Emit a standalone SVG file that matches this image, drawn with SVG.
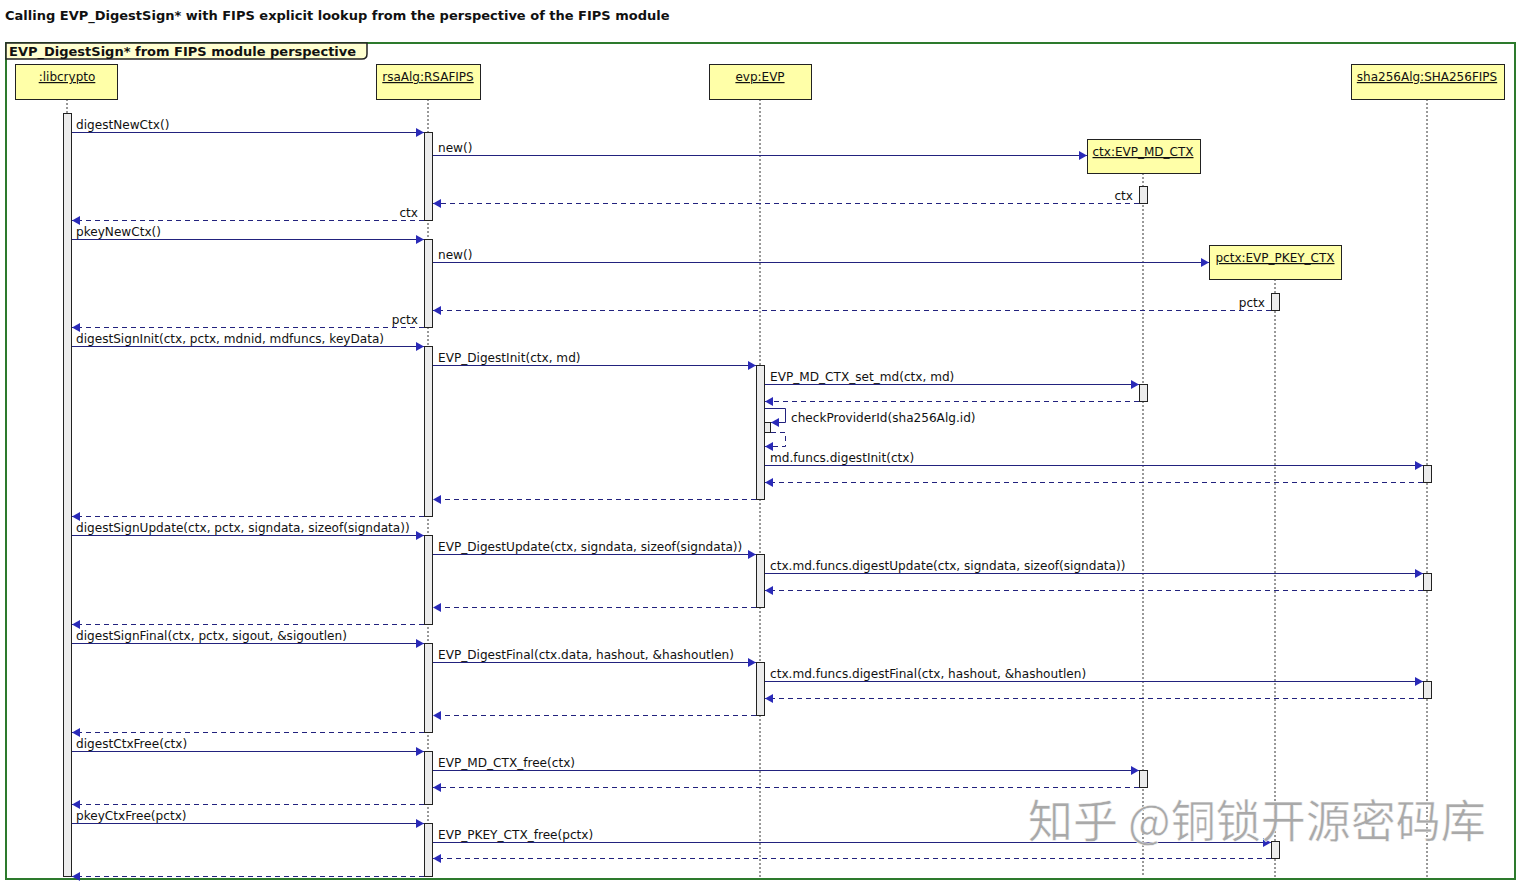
<svg xmlns="http://www.w3.org/2000/svg" width="1526" height="884" viewBox="0 0 1526 884">
<style>
text{font-family:"DejaVu Sans","Liberation Sans",sans-serif;font-size:12.1px;fill:#111}
.title{font-weight:bold;font-size:13px}
.head rect{fill:#ffffa8;stroke:#222;stroke-width:1}
.head text{text-anchor:middle;text-decoration:underline;font-size:12px}
.life{stroke:#333;stroke-width:1;stroke-dasharray:2,2}
.act{fill:#ececec;stroke:#222;stroke-width:1}
.msg{stroke:#22227e;stroke-width:1;fill:none;marker-end:url(#ah)}
.ret{stroke:#22227e;stroke-width:1;fill:none;stroke-dasharray:5,4;marker-end:url(#ah)}
.r{text-anchor:end}
.wm{font-family:"Noto Sans CJK SC",sans-serif;font-size:45px;fill:#a9a9a9;stroke:#ffffff;stroke-width:0.5}
</style>
<defs>
<marker id="ah" markerUnits="userSpaceOnUse" markerWidth="9" markerHeight="9" refX="8" refY="4.5" orient="auto"><path d="M0,0 L8,4.5 L0,9 z" fill="#2a2ab8"/></marker>
</defs>
<rect width="1526" height="884" fill="#fff"/>
<text class="title" x="5" y="20">Calling EVP_DigestSign* with FIPS explicit lookup from the perspective of the FIPS module</text>
<g id="frame">
<rect x="6" y="43" width="1509" height="836" fill="none" stroke="#2d7a2d" stroke-width="2"/>
<path d="M6,43 H367 V54 Q367,59 362,59 H6 Z" fill="#ffffd0" stroke="#222" stroke-width="1.5"/>
<text class="title" x="9" y="56">EVP_DigestSign* from FIPS module perspective</text>
</g>
<g id="lifelines">
<line class="life" x1="67" y1="99" x2="67" y2="877"/>
<line class="life" x1="428" y1="99" x2="428" y2="877"/>
<line class="life" x1="760" y1="99" x2="760" y2="877"/>
<line class="life" x1="1143" y1="173" x2="1143" y2="877"/>
<line class="life" x1="1275" y1="279" x2="1275" y2="877"/>
<line class="life" x1="1427" y1="99" x2="1427" y2="877"/>
</g>
<g id="libcrypto" class="head"><rect x="15.5" y="64.5" width="102" height="35"/><text x="67" y="81">:libcrypto</text></g>
<g id="rsaAlg" class="head"><rect x="376.5" y="64.5" width="104" height="35"/><text x="428" y="81">rsaAlg:RSAFIPS</text></g>
<g id="evp" class="head"><rect x="709.5" y="64.5" width="102" height="35"/><text x="760" y="81">evp:EVP</text></g>
<g id="sha256Alg" class="head"><rect x="1351.5" y="64.5" width="153" height="35"/><text x="1427" y="81">sha256Alg:SHA256FIPS</text></g>
<g id="ctx" class="head"><rect x="1087.5" y="139.5" width="113" height="34"/><text x="1143" y="156">ctx:EVP_MD_CTX</text></g>
<g id="pctx" class="head"><rect x="1209.5" y="245.5" width="132" height="34"/><text x="1275" y="262">pctx:EVP_PKEY_CTX</text></g>
<g id="activations">
<rect class="act" x="63.5" y="113.5" width="8" height="763"/>
<rect class="act" x="424.5" y="132.5" width="8" height="88"/>
<rect class="act" x="424.5" y="239.5" width="8" height="88"/>
<rect class="act" x="424.5" y="346.5" width="8" height="170"/>
<rect class="act" x="424.5" y="535.5" width="8" height="89"/>
<rect class="act" x="424.5" y="643.5" width="8" height="89"/>
<rect class="act" x="424.5" y="751.5" width="8" height="53"/>
<rect class="act" x="424.5" y="823.5" width="8" height="53"/>
<rect class="act" x="756.5" y="365.5" width="8" height="134"/>
<rect class="act" x="764.5" y="422.5" width="6" height="10"/>
<rect class="act" x="756.5" y="554.5" width="8" height="53"/>
<rect class="act" x="756.5" y="662.5" width="8" height="53"/>
<rect class="act" x="1139.5" y="186.5" width="8" height="17"/>
<rect class="act" x="1139.5" y="384.5" width="8" height="17"/>
<rect class="act" x="1139.5" y="770.5" width="8" height="17"/>
<rect class="act" x="1271.5" y="293.5" width="8" height="17"/>
<rect class="act" x="1271.5" y="841.5" width="8" height="17"/>
<rect class="act" x="1423.5" y="465.5" width="8" height="17"/>
<rect class="act" x="1423.5" y="573.5" width="8" height="17"/>
<rect class="act" x="1423.5" y="681.5" width="8" height="17"/>
</g>
<g id="connectors">
<line class="msg" x1="72" y1="132.5" x2="424" y2="132.5"/>
<line class="msg" x1="433" y1="155.5" x2="1087" y2="155.5"/>
<line class="ret" x1="1139" y1="203.5" x2="433" y2="203.5"/>
<line class="ret" x1="424" y1="220.5" x2="72" y2="220.5"/>
<line class="msg" x1="72" y1="239.5" x2="424" y2="239.5"/>
<line class="msg" x1="433" y1="262.5" x2="1209" y2="262.5"/>
<line class="ret" x1="1271" y1="310.5" x2="433" y2="310.5"/>
<line class="ret" x1="424" y1="327.5" x2="72" y2="327.5"/>
<line class="msg" x1="72" y1="346.5" x2="424" y2="346.5"/>
<line class="msg" x1="433" y1="365.5" x2="756" y2="365.5"/>
<line class="msg" x1="765" y1="384.5" x2="1139" y2="384.5"/>
<line class="ret" x1="1139" y1="401.5" x2="765" y2="401.5"/>
<polyline class="msg" points="765,408.5 785.5,408.5 785.5,422.5 771,422.5"/>
<polyline class="ret" points="771,432.5 785.5,432.5 785.5,446.5 765,446.5"/>
<line class="msg" x1="765" y1="465.5" x2="1423" y2="465.5"/>
<line class="ret" x1="1423" y1="482.5" x2="765" y2="482.5"/>
<line class="ret" x1="756" y1="499.5" x2="433" y2="499.5"/>
<line class="ret" x1="424" y1="516.5" x2="72" y2="516.5"/>
<line class="msg" x1="72" y1="535.5" x2="424" y2="535.5"/>
<line class="msg" x1="433" y1="554.5" x2="756" y2="554.5"/>
<line class="msg" x1="765" y1="573.5" x2="1423" y2="573.5"/>
<line class="ret" x1="1423" y1="590.5" x2="765" y2="590.5"/>
<line class="ret" x1="756" y1="607.5" x2="433" y2="607.5"/>
<line class="ret" x1="424" y1="624.5" x2="72" y2="624.5"/>
<line class="msg" x1="72" y1="643.5" x2="424" y2="643.5"/>
<line class="msg" x1="433" y1="662.5" x2="756" y2="662.5"/>
<line class="msg" x1="765" y1="681.5" x2="1423" y2="681.5"/>
<line class="ret" x1="1423" y1="698.5" x2="765" y2="698.5"/>
<line class="ret" x1="756" y1="715.5" x2="433" y2="715.5"/>
<line class="ret" x1="424" y1="732.5" x2="72" y2="732.5"/>
<line class="msg" x1="72" y1="751.5" x2="424" y2="751.5"/>
<line class="msg" x1="433" y1="770.5" x2="1139" y2="770.5"/>
<line class="ret" x1="1139" y1="787.5" x2="433" y2="787.5"/>
<line class="ret" x1="424" y1="804.5" x2="72" y2="804.5"/>
<line class="msg" x1="72" y1="823.5" x2="424" y2="823.5"/>
<line class="msg" x1="433" y1="842.5" x2="1271" y2="842.5"/>
<line class="ret" x1="1271" y1="858.5" x2="433" y2="858.5"/>
<line class="ret" x1="424" y1="876.5" x2="72" y2="876.5"/>
</g>
<g id="labels">
<text x="76" y="129">digestNewCtx()</text>
<text x="438" y="152">new()</text>
<text class="r" x="1133" y="200">ctx</text>
<text class="r" x="418" y="217">ctx</text>
<text x="76" y="236">pkeyNewCtx()</text>
<text x="438" y="259">new()</text>
<text class="r" x="1265" y="307">pctx</text>
<text class="r" x="418" y="324">pctx</text>
<text x="76" y="343">digestSignInit(ctx, pctx, mdnid, mdfuncs, keyData)</text>
<text x="438" y="362">EVP_DigestInit(ctx, md)</text>
<text x="770" y="381">EVP_MD_CTX_set_md(ctx, md)</text>
<text x="791" y="422">checkProviderId(sha256Alg.id)</text>
<text x="770" y="462">md.funcs.digestInit(ctx)</text>
<text x="76" y="532">digestSignUpdate(ctx, pctx, signdata, sizeof(signdata))</text>
<text x="438" y="551">EVP_DigestUpdate(ctx, signdata, sizeof(signdata))</text>
<text x="770" y="570">ctx.md.funcs.digestUpdate(ctx, signdata, sizeof(signdata))</text>
<text x="76" y="640">digestSignFinal(ctx, pctx, sigout, &amp;sigoutlen)</text>
<text x="438" y="659">EVP_DigestFinal(ctx.data, hashout, &amp;hashoutlen)</text>
<text x="770" y="678">ctx.md.funcs.digestFinal(ctx, hashout, &amp;hashoutlen)</text>
<text x="76" y="748">digestCtxFree(ctx)</text>
<text x="438" y="767">EVP_MD_CTX_free(ctx)</text>
<text x="76" y="820">pkeyCtxFree(pctx)</text>
<text x="438" y="839">EVP_PKEY_CTX_free(pctx)</text>
</g>
<text class="wm" x="1028" y="838">知乎 @铜锁开源密码库</text>
</svg>
